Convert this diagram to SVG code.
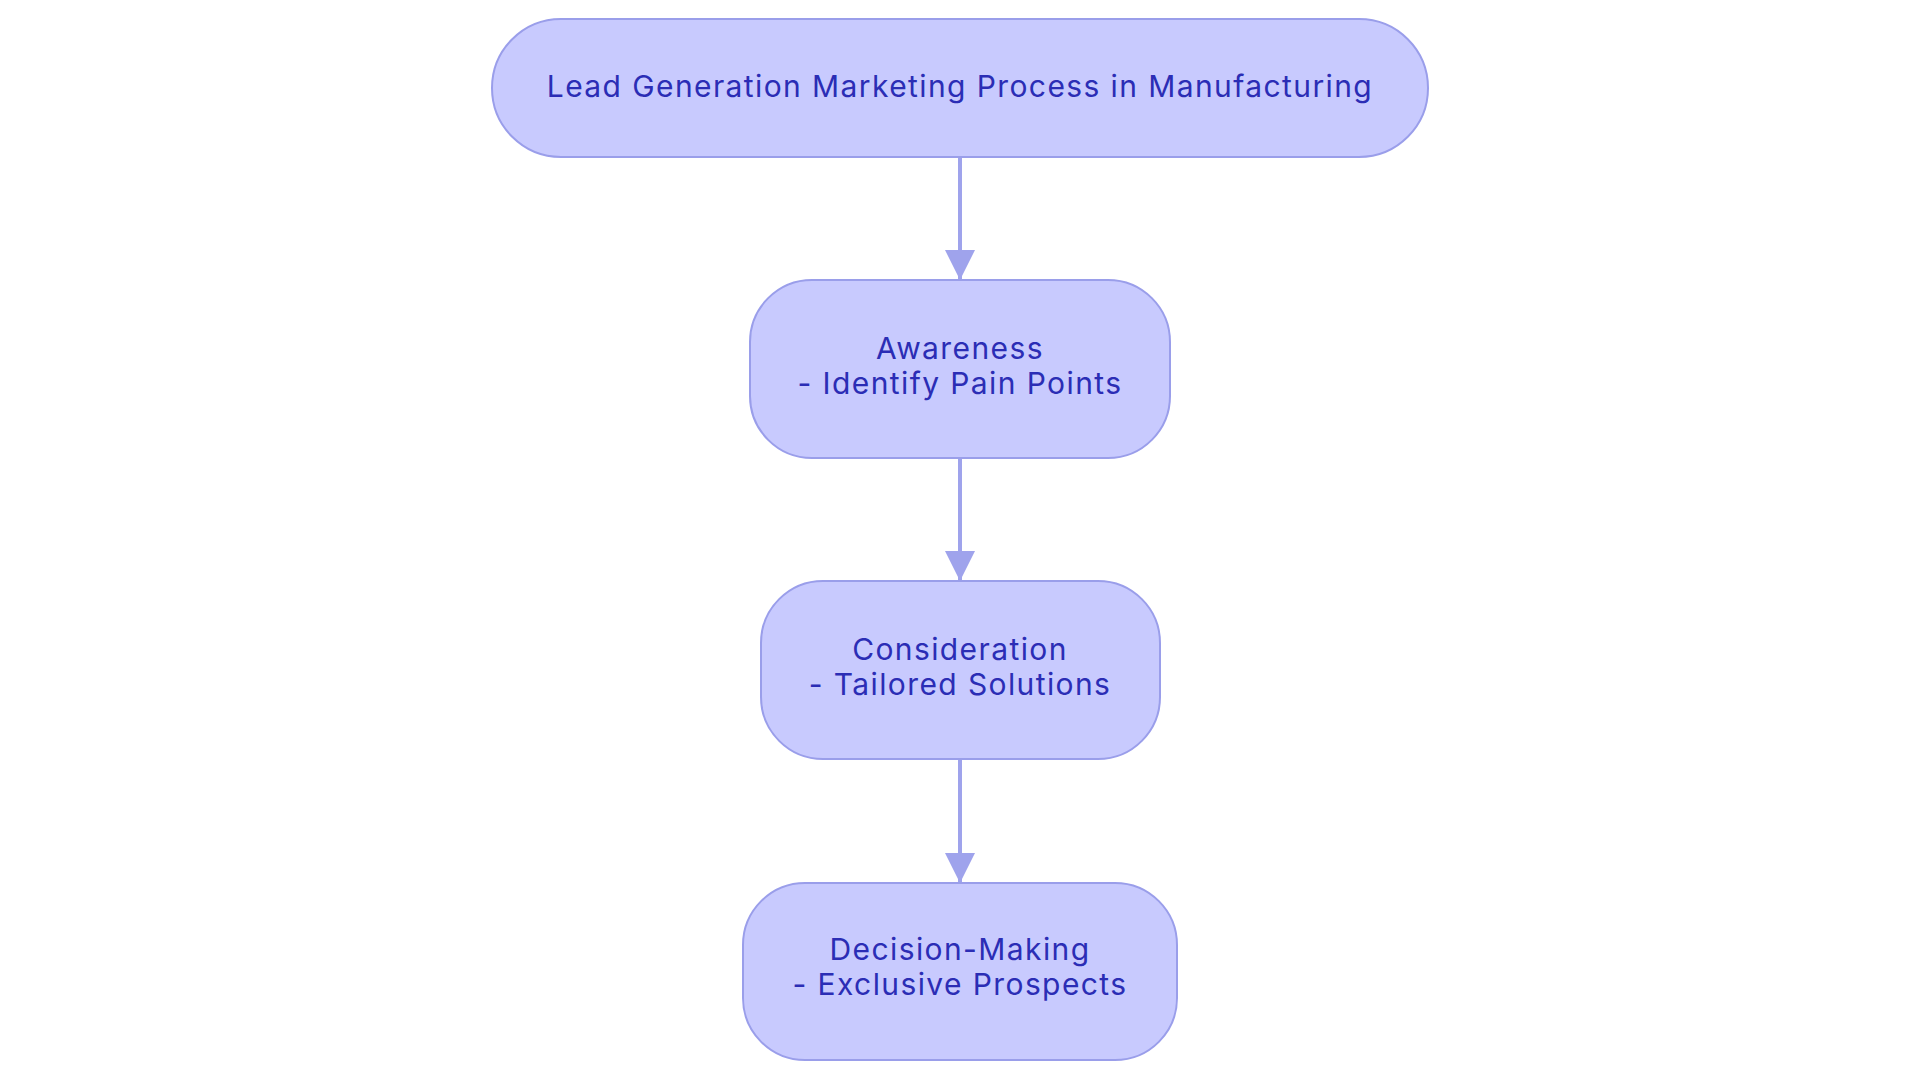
<svg xmlns="http://www.w3.org/2000/svg" width="1920" height="1083" viewBox="0 0 1920 1083">
<style>
.node rect{fill:#c8cafe;stroke:#9a9eea;stroke-width:2}
.node text{font-family:Inter,"Noto Sans",sans-serif;font-size:30px;letter-spacing:1.4px;fill:#2b2db5;text-anchor:middle}
.edge{stroke:#9fa3ec;stroke-width:4;fill:none}
</style>
<defs>
<marker id="arr" markerUnits="userSpaceOnUse" markerWidth="30" markerHeight="30" refX="30" refY="15" orient="auto">
<path d="M0,0 L30,15 L0,30 z" fill="#9fa3ec"/>
</marker>
</defs>
<rect width="1920" height="1083" fill="#ffffff"/>
<g id="connectors">
<path class="edge" d="M960,158 L960,280" marker-end="url(#arr)"/>
<path class="edge" d="M960,459 L960,581" marker-end="url(#arr)"/>
<path class="edge" d="M960,760 L960,883" marker-end="url(#arr)"/>
</g>
<g id="n0" class="node">
<rect x="492" y="19" width="936" height="138" rx="69" ry="69"/>
<text x="960" y="97">Lead Generation Marketing Process in Manufacturing</text>
</g>
<g id="n1" class="node">
<rect x="750" y="280" width="420" height="178" rx="62" ry="62"/>
<text x="960" y="359">Awareness</text>
<text x="960" y="394">- Identify Pain Points</text>
</g>
<g id="n2" class="node">
<rect x="761" y="581" width="399" height="178" rx="62" ry="62"/>
<text x="960" y="660">Consideration</text>
<text x="960" y="695">- Tailored Solutions</text>
</g>
<g id="n3" class="node">
<rect x="743" y="883" width="434" height="177" rx="62" ry="62"/>
<text x="960" y="960">Decision-Making</text>
<text x="960" y="995">- Exclusive Prospects</text>
</g>
</svg>
